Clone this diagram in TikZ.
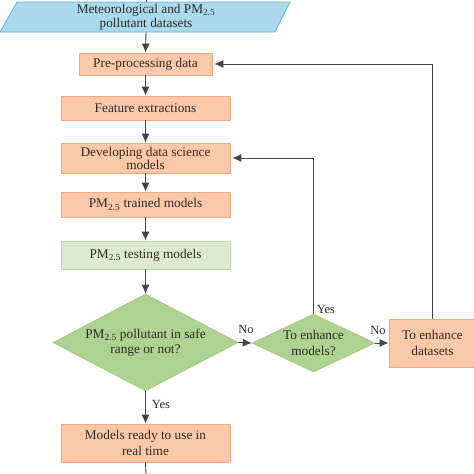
\documentclass[tikz,border=0pt]{standalone}
\usepackage{fontspec}
\setmainfont{Liberation Serif}
\usetikzlibrary{shapes.geometric,arrows.meta}
\definecolor{orfill}{HTML}{F9C9A9}
\definecolor{ordraw}{HTML}{F2A97F}
\definecolor{grfill}{HTML}{DCEBCF}
\definecolor{grdraw}{HTML}{BBD8A3}
\definecolor{dmfill}{HTML}{AED28F}
\definecolor{dmdraw}{HTML}{9CC47C}
\definecolor{blfill}{HTML}{A9D9EA}
\definecolor{bldraw}{HTML}{62B6D8}
\definecolor{txt}{HTML}{332828}
\definecolor{ln}{HTML}{444444}
\tikzset{
  every node/.style={text=txt, font=\fontsize{13.3}{15.5}\selectfont},
  obox/.style={rectangle, fill=orfill, draw=ordraw, line width=0.8pt, inner sep=0pt, align=center},
  gbox/.style={rectangle, fill=grfill, draw=grdraw, line width=0.8pt, inner sep=0pt, align=center},
  dbox/.style={diamond, fill=dmfill, draw=dmdraw, line width=0.6pt, inner sep=0pt, align=center},
  conn/.style={draw=ln, line width=0.9pt},
  arr/.style={conn, -{Latex[length=9pt,width=8pt]}},
  lbl/.style={inner sep=0pt, font=\fontsize{12.5}{13}\selectfont}
}
\begin{document}
\begin{tikzpicture}[x=1pt,y=-1pt]
\useasboundingbox (0,0) rectangle (474,474);
% input parallelogram
\filldraw[fill=blfill, draw=bldraw, line width=0.8pt] (17,2) -- (290,2) -- (275,32) -- (0,32) -- cycle;
\node[minimum width=275pt, minimum height=30pt, inner sep=0pt, align=center] (data) at (146,17)
  {Meteorological and PM\textsubscript{2.5}\\[-1.5pt]pollutant datasets};
\coordinate (top) at (146,0);
\coordinate (bot) at (146,474);
\node[obox, minimum width=133pt, minimum height=22pt] (pre) at (145.5,64) {Pre-processing data};
\node[obox, minimum width=169pt, minimum height=24pt] (feat) at (145.5,108) {Feature extractions};
\node[obox, minimum width=169pt, minimum height=30pt] (dev) at (145.5,158) {Developing data science\\[-2.5pt]models};
\node[obox, minimum width=169pt, minimum height=25pt] (trained) at (145.5,204.5) {PM\textsubscript{2.5} trained models};
\node[gbox, minimum width=169pt, minimum height=28pt] (test) at (145.5,255) {PM\textsubscript{2.5} testing models};
\node[dbox, aspect=1.9, minimum width=185pt, minimum height=97pt] (d1) at (145.5,342.5) {PM\textsubscript{2.5} pollutant in safe\\range or not?};
\node[dbox, aspect=2.1, minimum width=123pt, minimum height=58pt] (d2) at (313.5,343) {To enhance\\models?};
\node[obox, minimum width=87pt, minimum height=48pt] (ds) at (432.5,343) {To enhance\\datasets};
\node[obox, minimum width=169pt, minimum height=38pt] (ready) at (145.5,443) {Models ready to use in\\real time};
% connectors
\draw[conn] (top) -- (data.north);
\draw[arr] (data.south) -- (pre.north);
\draw[arr] (pre) -- (feat);
\draw[arr] (feat) -- (dev);
\draw[arr] (dev) -- (trained);
\draw[arr] (trained) -- (test);
\draw[arr] (test) -- (d1.north);
\draw[arr] (d1.east) -- (d2.west);
\draw[arr] (d2.east) -- (ds.west);
\draw[arr] (d1.south) -- (ready.north);
\draw[arr] (d2.north) |- ([xshift=2pt]dev.east);
\draw[arr] (ds.north) |- ([xshift=2pt]pre.east);
\draw[conn] (ready.south) -- (bot);
% labels
\node[lbl] (no1) at (246,329) {No};
\node[lbl] (no2) at (378,330) {No};
\node[lbl] (yes2) at (326,309) {Yes};
\node[lbl] (yes1) at (161,404) {Yes};
\end{tikzpicture}
\end{document}
